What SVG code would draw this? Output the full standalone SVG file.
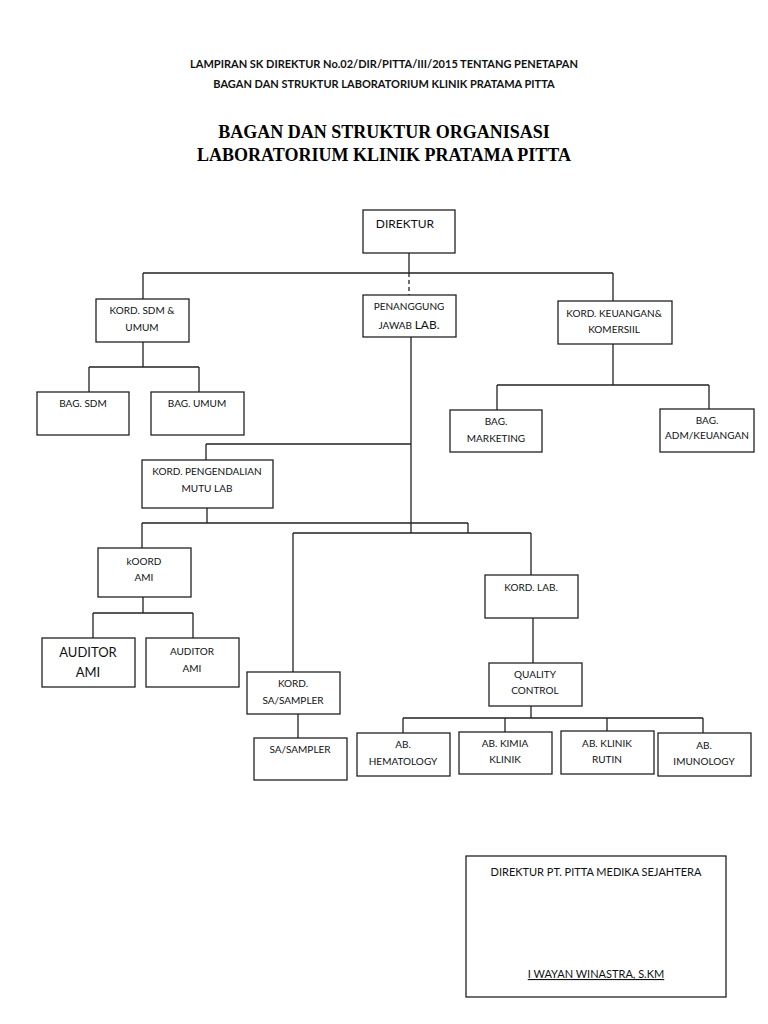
<svg xmlns="http://www.w3.org/2000/svg" width="768" height="1024" viewBox="0 0 768 1024">
<style>
.b{fill:#fff;stroke:#222;stroke-width:1.3}
.t{font-family:Lato,"Liberation Sans",sans-serif;font-size:10px;fill:#111;text-anchor:middle}
.l{fill:none;stroke:#222;stroke-width:1.3}
</style>
<rect width="768" height="1024" fill="#fff"/>
<text x="384" y="68" class="t" style="font-weight:bold;font-size:11px">LAMPIRAN SK DIREKTUR No.02/DIR/PITTA/III/2015 TENTANG PENETAPAN</text>
<text x="384" y="88" class="t" style="font-weight:bold;font-size:11px">BAGAN DAN STRUKTUR LABORATORIUM  KLINIK PRATAMA PITTA</text>
<text x="384" y="138" style="font-family:'Liberation Serif',serif;font-weight:bold;font-size:18px;text-anchor:middle">BAGAN DAN STRUKTUR ORGANISASI</text>
<text x="384" y="161" style="font-family:'Liberation Serif',serif;font-weight:bold;font-size:18px;text-anchor:middle">LABORATORIUM KLINIK PRATAMA PITTA</text>
<g id="connectors">
<path class="l" d="M409 236V273M143 273H613M143 273V299M613 273V301M143 342V367M89 367H199M89 367V392M199 367V392M613 344V385M497 385H709M497 385V410M709 385V409M411 337V533M206 444H411M206 444V460M207 508V523M142 523H468M468 523V533M293 533H531M142 523V548M143 597V613M93 613H193M93 613V638M193 613V638M293 533V672M298 714V738M531 533V575M533 618V663M531 706V718M403 718H703M403 718V733M505 718V732M607 718V731M703 718V733"/>
<path class="l" d="M409 273V295" stroke-dasharray="4,3"/>
</g>
<g id="direktur"><rect class="b" x="363" y="210" width="92" height="43"/><text class="t" x="405" y="228" style="font-size:12px">DIREKTUR</text></g>
<g id="kord-sdm"><rect class="b" x="96" y="299" width="93" height="43"/><text class="t" x="142" y="314">KORD. SDM &amp;</text><text class="t" x="142" y="331">UMUM</text></g>
<g id="pj"><rect class="b" x="363" y="295" width="93" height="42"/><text class="t" x="409" y="310">PENANGGUNG</text><text class="t" x="409" y="329">JAWAB <tspan style="font-size:12px">LAB.</tspan></text></g>
<g id="kord-keu"><rect class="b" x="558" y="301" width="114" height="43"/><text class="t" x="614" y="317">KORD. KEUANGAN&amp;</text><text class="t" x="614" y="333">KOMERSIIL</text></g>
<g id="bag-sdm"><rect class="b" x="37" y="392" width="92" height="43"/><text class="t" x="83" y="407">BAG. SDM</text></g>
<g id="bag-umum"><rect class="b" x="151" y="392" width="93" height="43"/><text class="t" x="197" y="407">BAG. UMUM</text></g>
<g id="bag-marketing"><rect class="b" x="450" y="410" width="92" height="42"/><text class="t" x="496" y="425">BAG.</text><text class="t" x="496" y="442">MARKETING</text></g>
<g id="bag-adm"><rect class="b" x="660" y="409" width="94" height="43"/><text class="t" x="707" y="424">BAG.</text><text class="t" x="707" y="439">ADM/KEUANGAN</text></g>
<g id="kord-mutu"><rect class="b" x="142" y="460" width="131" height="48"/><text class="t" x="207" y="475">KORD. PENGENDALIAN</text><text class="t" x="207" y="492">MUTU LAB</text></g>
<g id="koord-ami"><rect class="b" x="98" y="548" width="93" height="49"/><text class="t" x="144" y="565">kOORD</text><text class="t" x="144" y="581">AMI</text></g>
<g id="auditor1"><rect class="b" x="42" y="638" width="93" height="49"/><text class="t" x="88" y="657" style="font-size:13px">AUDITOR</text><text class="t" x="88" y="677" style="font-size:13px">AMI</text></g>
<g id="auditor2"><rect class="b" x="146" y="638" width="93" height="49"/><text class="t" x="192" y="655">AUDITOR</text><text class="t" x="192" y="672">AMI</text></g>
<g id="kord-sa"><rect class="b" x="247" y="672" width="93" height="42"/><text class="t" x="293" y="687">KORD.</text><text class="t" x="293" y="704">SA/SAMPLER</text></g>
<g id="sa"><rect class="b" x="254" y="738" width="93" height="42"/><text class="t" x="300" y="753">SA/SAMPLER</text></g>
<g id="kord-lab"><rect class="b" x="485" y="575" width="93" height="43"/><text class="t" x="531" y="591">KORD. LAB.</text></g>
<g id="qc"><rect class="b" x="489" y="663" width="93" height="43"/><text class="t" x="535" y="678">QUALITY</text><text class="t" x="535" y="694">CONTROL</text></g>
<g id="hema"><rect class="b" x="357" y="733" width="93" height="43"/><text class="t" x="403" y="748">AB.</text><text class="t" x="403" y="765">HEMATOLOGY</text></g>
<g id="kimia"><rect class="b" x="459" y="732" width="93" height="42"/><text class="t" x="505" y="747">AB. KIMIA</text><text class="t" x="505" y="763">KLINIK</text></g>
<g id="klinik"><rect class="b" x="561" y="731" width="93" height="43"/><text class="t" x="607" y="747">AB. KLINIK</text><text class="t" x="607" y="763">RUTIN</text></g>
<g id="imun"><rect class="b" x="658" y="733" width="93" height="43"/><text class="t" x="704" y="749">AB.</text><text class="t" x="704" y="765">IMUNOLOGY</text></g>
<g id="sign"><rect class="b" x="466" y="856" width="260" height="141"/><text class="t" x="596" y="876" style="font-size:11px">DIREKTUR PT. PITTA MEDIKA SEJAHTERA</text><text class="t" x="596" y="978" style="font-size:11px;text-decoration:underline">I WAYAN WINASTRA, S.KM </text></g>
</svg>
